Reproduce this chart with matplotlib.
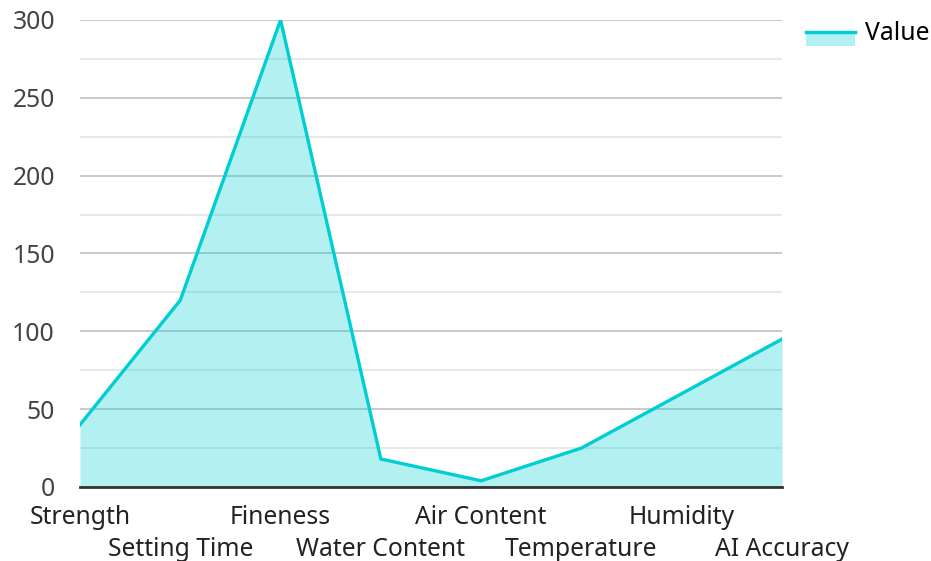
import matplotlib
matplotlib.use("Agg")
import matplotlib.pyplot as plt
from matplotlib.legend_handler import HandlerBase
from matplotlib.patches import Rectangle
from matplotlib.lines import Line2D

categories = ["Strength", "Setting Time", "Fineness", "Water Content",
              "Air Content", "Temperature", "Humidity", "AI Accuracy"]
values = [40, 120, 300, 18, 4, 25, 60, 95]
y_ticks = [0, 50, 100, 150, 200, 250, 300]
y_minor = [25, 75, 125, 175, 225, 275]

line_color = "#00CED1"
fill_alpha = 0.3

plt.rcParams['font.family'] = ['Noto Sans', 'DejaVu Sans']
fs = 17.8


class AreaHandler(HandlerBase):
    # filled box with the line on its top edge, sitting a bit low like the original
    def create_artists(self, legend, orig_handle, xdescent, ydescent,
                       width, height, fontsize, trans):
        y0 = -ydescent - 5.5
        rect = Rectangle((-xdescent, y0), width, height,
                         facecolor=line_color, alpha=fill_alpha,
                         edgecolor="none", transform=trans)
        top = y0 + height
        ln = Line2D([-xdescent, -xdescent + width], [top, top],
                    color=line_color, lw=2.5, transform=trans)
        return [rect, ln]


fig = plt.figure(figsize=(9.31, 5.61), dpi=100)
ax = fig.add_axes([80 / 931, 1 - 487 / 561, 702 / 931, 467 / 561])

x = list(range(len(categories)))
ax.fill_between(x, values, 0, color=line_color, alpha=fill_alpha, lw=0, zorder=2)
line, = ax.plot(x, values, color=line_color, lw=2.4, zorder=3,
                solid_joinstyle="miter")

ax.set_xlim(0, len(categories) - 1)
ax.set_ylim(0, 300)
ax.set_yticks(y_ticks)
ax.set_yticks(y_minor, minor=True)
ax.grid(axis="y", which="major", color="#c6c6c6", lw=1.3, zorder=1)
ax.grid(axis="y", which="minor", color="#e6e6e6", lw=1.3, zorder=1)
ax.set_axisbelow(True)

for s in ["top", "right", "left"]:
    ax.spines[s].set_visible(False)
ax.spines["bottom"].set_color("#333333")
ax.spines["bottom"].set_linewidth(2)
ax.spines["bottom"].set_zorder(4)

ax.set_xticks(x)
ax.set_xticklabels(categories, fontsize=fs, color="#222222")
ax.tick_params(axis="x", length=0)
ax.tick_params(axis="y", which="both", length=0, pad=18,
               labelsize=fs, labelcolor="#444444")
for i, t in enumerate(ax.xaxis.get_major_ticks()):
    t.set_pad(13 if i % 2 == 0 else 36)

ax.legend([line], ["Value"], handler_map={Line2D: AreaHandler()},
          loc="upper left", bbox_to_anchor=(806 / 931, 1 - 21 / 561),
          bbox_transform=fig.transFigure, frameon=False, fontsize=fs,
          handlelength=2.0, handleheight=0.5, handletextpad=0.4,
          borderaxespad=0, borderpad=0)

fig.savefig("out.png", dpi=100)
